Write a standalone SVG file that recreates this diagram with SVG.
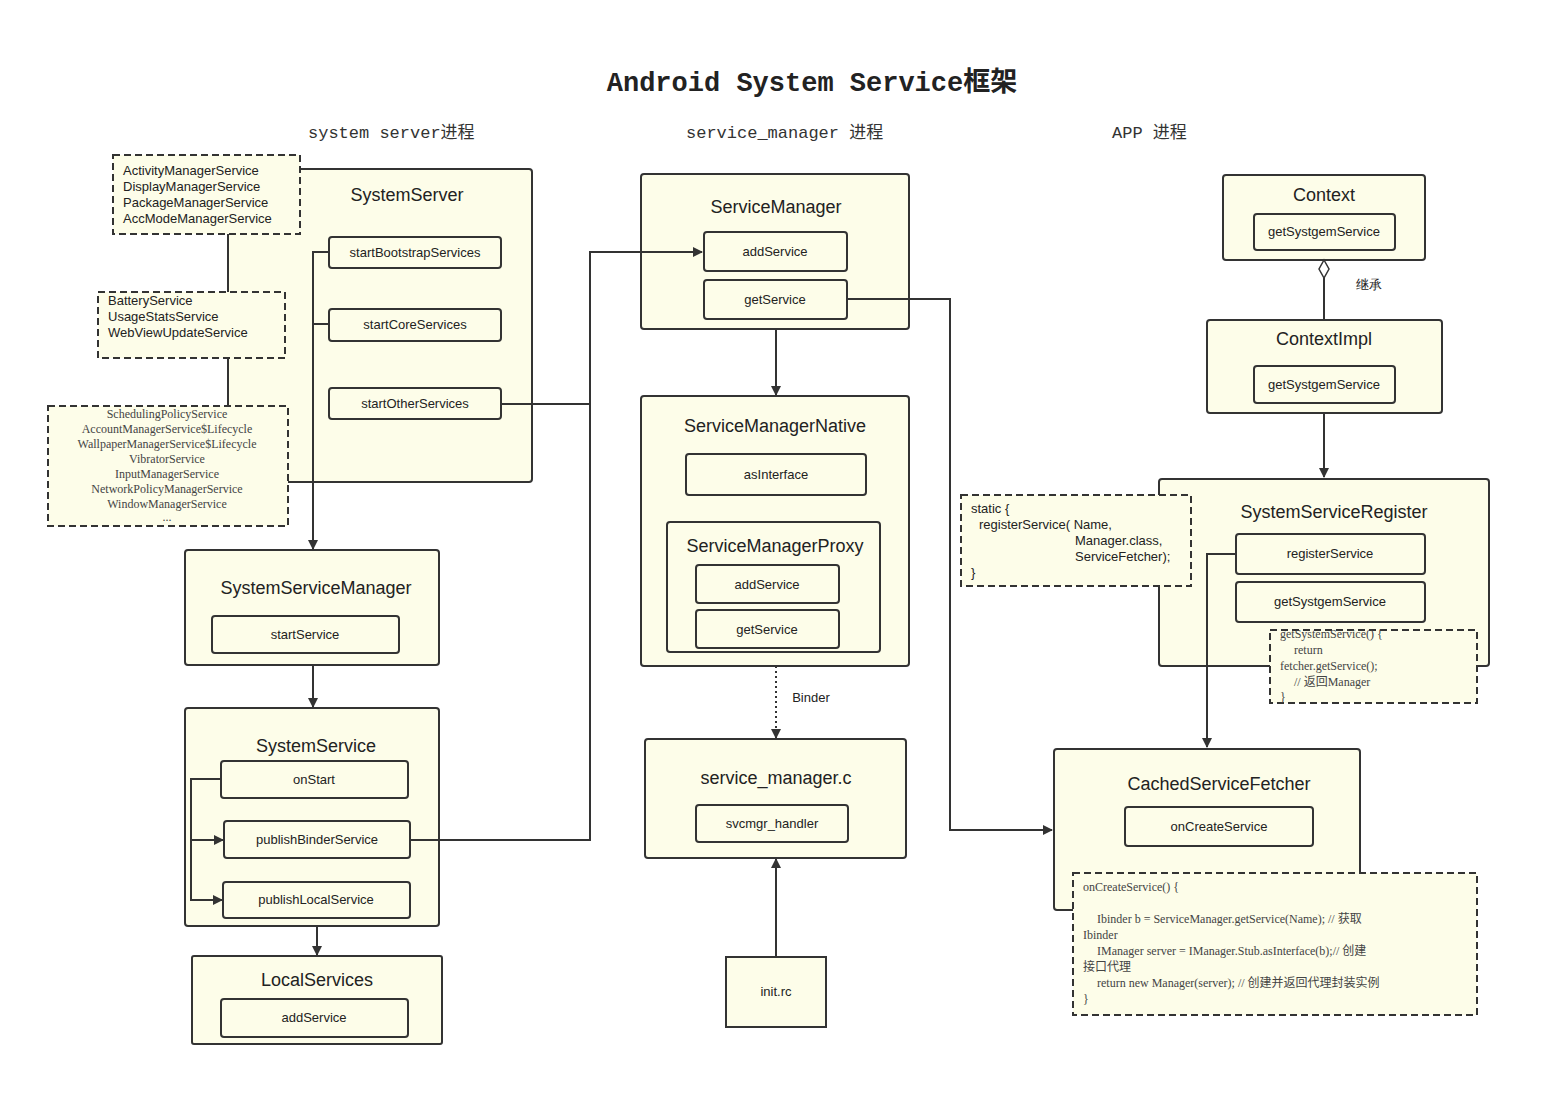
<svg xmlns="http://www.w3.org/2000/svg" width="1551" height="1105" viewBox="0 0 1551 1105">
<style>
.n{fill:#fdfde9;stroke:#333;stroke-width:2}
.b{fill:#fdfde9;stroke:#333;stroke-width:2}
.d{fill:#fdfde9;stroke:#333;stroke-width:2;stroke-dasharray:7,4}
.t{font-family:"Liberation Sans",Arial,sans-serif;font-size:18px;fill:#222;text-anchor:middle}
.s{font-family:"Liberation Sans",Arial,sans-serif;font-size:13px;fill:#222;text-anchor:middle}
.l{font-family:"Liberation Sans",Arial,sans-serif;font-size:13px;fill:#222}
.m{font-family:"Liberation Serif","Noto Sans CJK SC",serif;font-size:12px;fill:#444}
.h{font-family:"Liberation Mono","Noto Sans CJK SC",monospace;font-size:17px;fill:#333}
.c{fill:none;stroke:#333;stroke-width:2}
</style>
<defs><marker id="a" markerWidth="10" markerHeight="10" refX="9" refY="5" orient="auto" markerUnits="userSpaceOnUse"><path d="M0,0L10,5L0,10z" fill="#333"/></marker></defs>
<rect width="1551" height="1105" fill="#fff"/>
<text x="812" y="91" text-anchor="middle" style="font-family:'Liberation Mono','Noto Sans CJK SC',monospace;font-size:27px;font-weight:bold;fill:#222">Android System Service框架</text>
<text class="h" x="308" y="138">system server进程</text>
<text class="h" x="686" y="138">service_manager 进程</text>
<text class="h" x="1112" y="138">APP 进程</text>

<g id="SystemServer"><rect class="n" x="228" y="169" width="304" height="313" rx="3"/><text class="t" x="407" y="201">SystemServer</text>
<rect class="b" x="329" y="237" width="172" height="31" rx="3"/><text class="s" x="415" y="257">startBootstrapServices</text>
<rect class="b" x="329" y="309" width="172" height="32" rx="3"/><text class="s" x="415" y="329">startCoreServices</text>
<rect class="b" x="329" y="388" width="172" height="31" rx="3"/><text class="s" x="415" y="408">startOtherServices</text></g>
<g id="svc1"><rect class="d" x="113" y="155" width="187" height="79"/><text class="l" x="123" y="175">ActivityManagerService</text><text class="l" x="123" y="191">DisplayManagerService</text><text class="l" x="123" y="207">PackageManagerService</text><text class="l" x="123" y="223">AccModeManagerService</text></g>
<g id="svc2"><rect class="d" x="98" y="292" width="187" height="66"/><text class="l" x="108" y="305">BatteryService</text><text class="l" x="108" y="321">UsageStatsService</text><text class="l" x="108" y="337">WebViewUpdateService</text></g>
<g id="svc3"><rect class="d" x="48" y="406" width="240" height="120"/>
<g class="m" text-anchor="middle"><text x="167" y="418">SchedulingPolicyService</text><text x="167" y="433">AccountManagerService$Lifecycle</text><text x="167" y="448">WallpaperManagerService$Lifecycle</text><text x="167" y="463">VibratorService</text><text x="167" y="478">InputManagerService</text><text x="167" y="493">NetworkPolicyManagerService</text><text x="167" y="508">WindowManagerService</text><text x="167" y="521">...</text></g></g>

<g id="SystemServiceManager"><rect class="n" x="185" y="550" width="254" height="115" rx="3"/><text class="t" x="316" y="594">SystemServiceManager</text><rect class="b" x="212" y="616" width="187" height="37" rx="3"/><text class="s" x="305" y="639">startService</text></g>
<g id="SystemService"><rect class="n" x="185" y="708" width="254" height="218" rx="3"/><text class="t" x="316" y="752">SystemService</text>
<rect class="b" x="221" y="761" width="187" height="37" rx="3"/><text class="s" x="314" y="784">onStart</text>
<rect class="b" x="224" y="821" width="186" height="37" rx="3"/><text class="s" x="317" y="844">publishBinderService</text>
<rect class="b" x="223" y="882" width="187" height="36" rx="3"/><text class="s" x="316" y="904">publishLocalService</text></g>
<g id="LocalServices"><rect class="n" x="192" y="956" width="250" height="88" rx="2"/><text class="t" x="317" y="986">LocalServices</text><rect class="b" x="221" y="999" width="187" height="38" rx="3"/><text class="s" x="314" y="1022">addService</text></g>

<g id="ServiceManager"><rect class="n" x="641" y="174" width="268" height="155" rx="3"/><text class="t" x="776" y="213">ServiceManager</text>
<rect class="b" x="704" y="232" width="143" height="39" rx="3"/><text class="s" x="775" y="256">addService</text>
<rect class="b" x="704" y="280" width="143" height="39" rx="3"/><text class="s" x="775" y="304">getService</text></g>
<g id="ServiceManagerNative"><rect class="n" x="641" y="396" width="268" height="270" rx="3"/><text class="t" x="775" y="432">ServiceManagerNative</text>
<rect class="b" x="686" y="454" width="180" height="41" rx="3"/><text class="s" x="776" y="479">asInterface</text>
<rect class="b" x="667" y="522" width="213" height="130" rx="3"/><text class="t" x="775" y="552">ServiceManagerProxy</text>
<rect class="b" x="696" y="565" width="143" height="38" rx="3"/><text class="s" x="767" y="589">addService</text>
<rect class="b" x="696" y="610" width="143" height="38" rx="3"/><text class="s" x="767" y="634">getService</text></g>
<g id="service_manager_c"><rect class="n" x="645" y="739" width="261" height="119" rx="3"/><text class="t" x="776" y="784">service_manager.c</text><rect class="b" x="696" y="805" width="152" height="37" rx="3"/><text class="s" x="772" y="828">svcmgr_handler</text></g>
<g id="init_rc"><rect class="n" x="726" y="957" width="100" height="70"/><text class="s" x="776" y="996">init.rc</text></g>

<g id="Context"><rect class="n" x="1223" y="175" width="202" height="85" rx="3"/><text class="t" x="1324" y="201">Context</text><rect class="b" x="1254" y="214" width="141" height="36" rx="3"/><text class="s" x="1324" y="236">getSystgemService</text></g>
<g id="ContextImpl"><rect class="n" x="1207" y="320" width="235" height="93" rx="3"/><text class="t" x="1324" y="345">ContextImpl</text><rect class="b" x="1254" y="366" width="141" height="37" rx="3"/><text class="s" x="1324" y="389">getSystgemService</text></g>
<g id="SystemServiceRegister"><rect class="n" x="1159" y="479" width="330" height="187" rx="3"/><text class="t" x="1334" y="518">SystemServiceRegister</text>
<rect class="b" x="1236" y="534" width="189" height="40" rx="3"/><text class="s" x="1330" y="558">registerService</text>
<rect class="b" x="1236" y="582" width="189" height="40" rx="3"/><text class="s" x="1330" y="606">getSystgemService</text></g>
<g id="staticNote"><rect class="d" x="961" y="495" width="230" height="91"/><text class="l" x="971" y="513">static {</text><text class="l" x="979" y="529">registerService( Name,</text><text class="l" x="1075" y="545">Manager.class,</text><text class="l" x="1075" y="561">ServiceFetcher);</text><text class="l" x="971" y="577">}</text></g>
<g id="CachedServiceFetcher"><rect class="n" x="1054" y="749" width="306" height="161" rx="3"/><text class="t" x="1219" y="790">CachedServiceFetcher</text><rect class="b" x="1125" y="807" width="188" height="39" rx="3"/><text class="s" x="1219" y="831">onCreateService</text></g>
<g id="getNote"><rect class="d" x="1270" y="630" width="207" height="73"/><g class="m"><text x="1280" y="638">getSystemService() {</text><text x="1294" y="654">return</text><text x="1280" y="670">fetcher.getService();</text><text x="1294" y="686">// 返回Manager</text><text x="1280" y="701">}</text></g></g>
<g id="createNote"><rect class="d" x="1073" y="873" width="404" height="142"/><g class="m"><text x="1083" y="891">onCreateService() {</text><text x="1097" y="923">Ibinder b = ServiceManager.getService(Name);   // 获取</text><text x="1083" y="939">Ibinder</text><text x="1097" y="955">IManager server = IManager.Stub.asInterface(b);// 创建</text><text x="1083" y="971">接口代理</text><text x="1097" y="987">return new Manager(server); // 创建并返回代理封装实例</text><text x="1083" y="1003">}</text></g></g>

<g id="connectors">
<path class="c" d="M228,234V292M228,358V406"/>
<path class="c" d="M329,252H313V549" marker-end="url(#a)"/>
<path class="c" d="M329,324H313"/>
<path class="c" d="M501,404H590V252H702" marker-end="url(#a)"/>
<path class="c" d="M410,840H590V404"/>
<path class="c" d="M313,665V707" marker-end="url(#a)"/>
<path class="c" d="M221,779H191V900H222" marker-end="url(#a)"/>
<path class="c" d="M191,840H223" marker-end="url(#a)"/>
<path class="c" d="M317,926V955" marker-end="url(#a)"/>
<path class="c" d="M847,299H950V830H1052" marker-end="url(#a)"/>
<path class="c" d="M776,329V395" marker-end="url(#a)"/>
<path class="c" d="M776,666V738" stroke-dasharray="2,3" marker-end="url(#a)"/>
<text class="s" x="811" y="702">Binder</text>
<path class="c" d="M776,957V859" marker-end="url(#a)"/>
<path class="c" d="M1324,278V320"/>
<path d="M1324,260L1329,269L1324,278L1319,269z" fill="#fff" stroke="#333" stroke-width="1.5"/>
<text class="s" x="1369" y="289">继承</text>
<path class="c" d="M1324,413V477" marker-end="url(#a)"/>
<path class="c" d="M1236,554H1207V747" marker-end="url(#a)"/>
</g>
</svg>
